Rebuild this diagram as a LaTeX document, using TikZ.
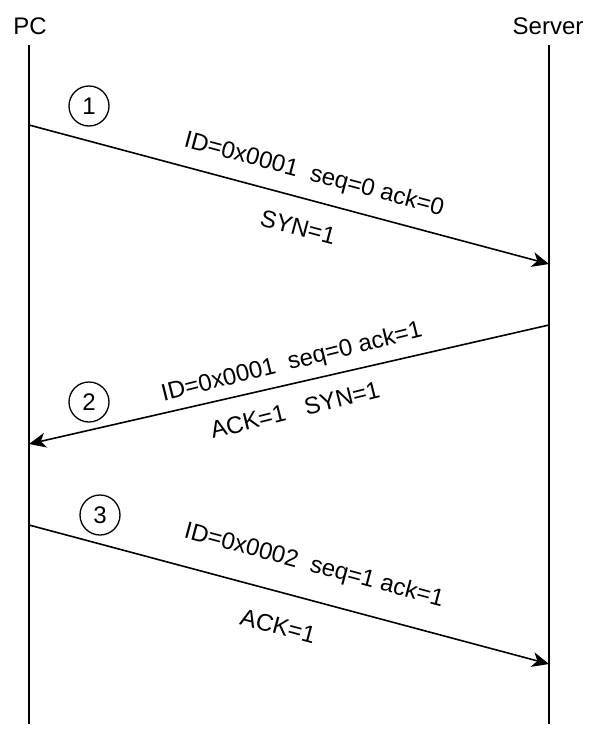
\documentclass[tikz,border=0pt]{standalone}
\usepackage{fontspec}
\setmainfont{Liberation Sans}
\usetikzlibrary{arrows.meta}

\tikzset{
  lifeline/.style={line width=1.9pt},
  msg/.style={line width=1.6pt, -{Stealth[length=17pt,width=15pt,inset=5pt]}},
  stepnum/.style={draw, circle, line width=1.3pt, minimum size=40pt, inner sep=0pt},
  msglabel/.style={inner sep=0pt},
}

\begin{document}
\begin{tikzpicture}[x=1pt, y=-1pt, font=\fontsize{24}{28}\selectfont]
                    \useasboundingbox (0,0) rectangle (590,736);

                    \node[inner sep=0pt] (PC) at (30,26) {PC};
                    \node[inner sep=0pt] (Server) at (548,26) {Server};

                    \coordinate (PCtop) at (29,45);
                    \coordinate (PCbot) at (29,724);
                    \coordinate (SVtop) at (549,45);
                    \coordinate (SVbot) at (549,724);

                    \draw[lifeline] (PCtop) -- (PCbot);
                    \draw[lifeline] (SVtop) -- (SVbot);

                    \coordinate (M1a) at (29,125);
                    \coordinate (M1b) at (549,264);
                    \coordinate (M2a) at (549,325);
                    \coordinate (M2b) at (29,444);
                    \coordinate (M3a) at (29,525);
                    \coordinate (M3b) at (549,664);

                    \draw[msg] (M1a) -- (M1b);
                    \draw[msg] (M2a) -- (M2b);
                    \draw[msg] (M3a) -- (M3b);

                    \node[stepnum] (S1) at (89,106) {1};
                    \node[stepnum] (S2) at (89,402) {2};
                    \node[stepnum] (S3) at (100,515) {3};

                    \node[msglabel, rotate=-15] (L1a) at (314,175) {ID=0x0001\ \ seq=0 ack=0};
                    \node[msglabel, rotate=-15] (L1b) at (298,227) {SYN=1};
                    \node[msglabel, rotate=14] (L2a) at (292,363) {ID=0x0001\ \ seq=0 ack=1};
                    \node[msglabel, rotate=14] (L2b) at (295,410) {ACK=1\ \ \ SYN=1};
                    \node[msglabel, rotate=-15] (L3a) at (314,566) {ID=0x0002\ \ seq=1 ack=1};
                    \node[msglabel, rotate=-15] (L3b) at (278,626) {ACK=1};
                \end{tikzpicture}
\end{document}
